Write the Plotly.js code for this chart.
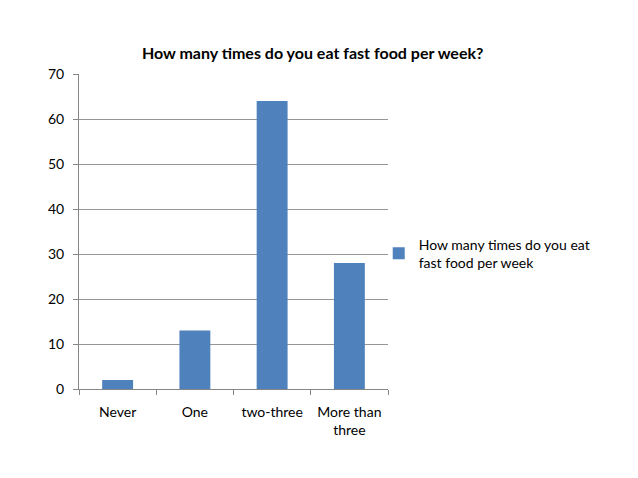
<!DOCTYPE html>
<html>
<head>
<meta charset="utf-8">
<script src="https://cdn.plot.ly/plotly-3.0.1.min.js"></script>
<style>
  html, body { margin: 0; padding: 0; background: #fff; }
  #chart { width: 638px; height: 478px; }
</style>
</head>
<body>
<div id="chart"></div>
<script>
'use strict';

const categories = ['Never', 'One', 'two-three', 'More than<br>three'];
const counts = [2, 13, 64, 28];
const seriesName = 'How many times do you eat<br>fast food per week';
const chartTitle = 'How many times do you eat fast food per week?';

const FONT = 'Lato, "Open Sans", sans-serif';

Plotly.newPlot('chart', [{
    x: categories, y: counts, type: 'bar',
    name: seriesName, showlegend: true,
    marker: { color: '#4f81bd' },
    hoverinfo: 'skip',
}], {
    width: 638, height: 478,
    paper_bgcolor: '#fff', plot_bgcolor: '#fff',
    font: { family: FONT, size: 14, color: '#000' },
    title: { text: '<b>' + chartTitle + '</b>', x: 0.49, xref: 'container', y: 0.9, yref: 'container', font: { size: 16, family: FONT } },
    margin: { l: 79, r: 250, t: 74, b: 89 },
    bargap: 0.6,
    xaxis: {
        type: 'category', tickson: 'boundaries', ticks: 'outside', ticklen: 5, tickcolor: '#868686',
        showline: true, linecolor: '#868686', showgrid: false, tickfont: { size: 14 },
        ticklabelstandoff: 10,
    },
    yaxis: {
        range: [0, 70], dtick: 10, ticks: 'outside', ticklen: 5, tickcolor: '#868686',
        showline: true, linecolor: '#868686', showgrid: true, gridcolor: '#969696', gridwidth: 1,
        zeroline: false, tickfont: { size: 14 }, ticklabelstandoff: 6,
    },
    legend: { x: 0.97, xanchor: 'left', y: 0.43, yanchor: 'middle', font: { size: 14 }, bgcolor: 'rgba(0,0,0,0)' },
}, { displayModeBar: false, staticPlot: true });
</script>
</body>
</html>
